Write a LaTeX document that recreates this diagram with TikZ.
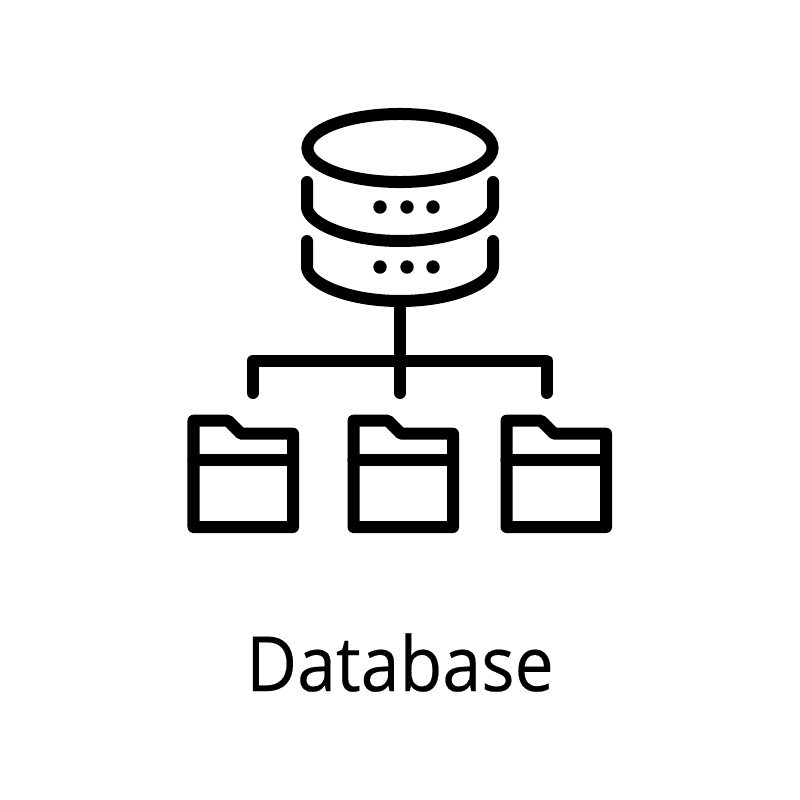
\documentclass[tikz,border=0pt]{standalone}
\usepackage{fontspec}
\setmainfont[FakeStretch=0.92,FakeBold=0.25]{Open Sans}
\usetikzlibrary{shapes.geometric}
\tikzset{
	icon/.style={line width=0.12cm,line cap=round,line join=round,black},
	dot/.style={circle,fill=black,inner sep=0pt,minimum size=0.134cm},
	disk/.style={ellipse,draw,line width=0.12cm,inner sep=0pt,outer sep=0pt,minimum width=1.85cm,minimum height=0.68cm}
}

\begin{document}
\begin{tikzpicture}[x=0.01cm,y=-0.01cm]
	\useasboundingbox (0,0) rectangle (800,800);
	\fill[white] (0,0) rectangle (800,800);
	\node[disk] (top) at (400,148) {};
	\coordinate (midl) at (307,182);
	\coordinate (midr) at (493,182);
	\coordinate (midb) at (400,241);
	\coordinate (lowl) at (307,241);
	\coordinate (lowr) at (493,241);
	\coordinate (lowb) at (400,301);
	\draw[icon] (midl) -- (307,207) .. controls (307,222) and (345,241) .. (midb) .. controls (455,241) and (493,222) .. (493,207) -- (midr);
	\draw[icon] (lowl) -- (307,267) .. controls (307,282) and (345,301) .. (lowb) .. controls (455,301) and (493,282) .. (493,267) -- (lowr);
	\foreach \x/\n in {380/a,407/b,433/c}{
		\node[dot] (up\n) at (\x,207) {};
		\node[dot] (lo\n) at (\x,267) {};
	}
	\coordinate (bus) at (400,360.5);
	\coordinate (busl) at (253,360.5);
	\coordinate (busr) at (546.5,360.5);
	\coordinate (dropl) at (253,393);
	\coordinate (dropm) at (400,393);
	\coordinate (dropr) at (546.5,393);
	\draw[icon] (lowb) -- (bus) -- (dropm);
	\draw[icon] (dropl) -- (busl) -- (busr) -- (dropr);
	\foreach \dx/\n in {0/a,160/b,313/c}{
		\begin{scope}[xshift=\dx*0.01cm]
			\coordinate (fold\n) at (193.5,527);
			\draw[icon] (fold\n) -- (193.5,420.7) -- (228,420.7) -- (241,433.7) -- (293,433.7) -- (293,527) -- cycle;
			\draw[icon] (193.5,460) -- (293,460);
		\end{scope}
	}
	\node[inner sep=0pt,anchor=base,font=\fontsize{21.6pt}{26pt}\selectfont] (title) at (400,691) {Database};
\end{tikzpicture}
\end{document}
